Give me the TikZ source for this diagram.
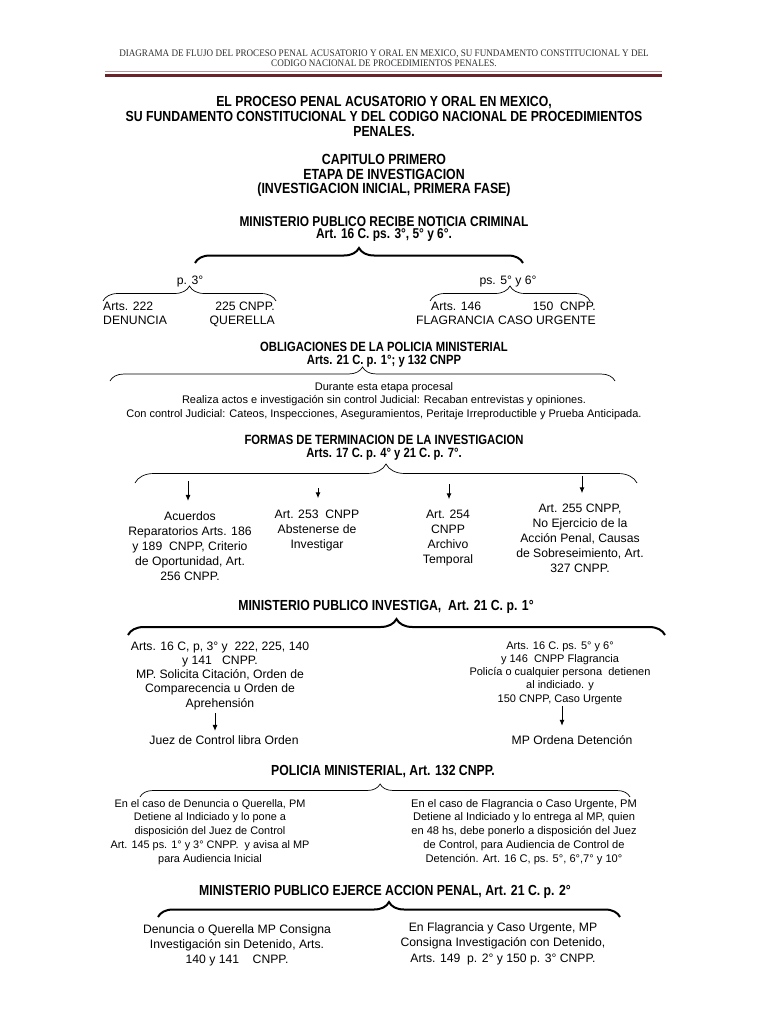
\documentclass[tikz,border=0pt]{standalone}
\usepackage{fontspec}
\setmainfont{Liberation Sans}
\newfontfamily\narrowfont[FakeStretch=0.84]{Liberation Sans}
\newfontfamily\headerfont[FakeStretch=0.91]{Liberation Serif}
\usepackage{xcolor}
\usetikzlibrary{arrows.meta,positioning,decorations.pathreplacing}
\definecolor{ruleDark}{HTML}{6A2128}
\definecolor{ruleLight}{HTML}{B89497}
\definecolor{headGray}{HTML}{2E2E2E}

\begin{document}
\begin{tikzpicture}[x=1pt,y=-1pt,
  lbl/.style={inner sep=0pt,align=center,anchor=base},
  header/.style={lbl,text=headGray,font=\headerfont\fontsize{10}{10}\selectfont},
  title/.style={lbl,font=\narrowfont\bfseries\fontsize{14.6}{15}\selectfont},
  head/.style={lbl,font=\narrowfont\bfseries\fontsize{14.6}{13}\selectfont},
  smallhead/.style={lbl,font=\narrowfont\bfseries\fontsize{13.4}{13}\selectfont},
  note/.style={lbl,font=\fontsize{12.2}{15}\selectfont},
  smallnote/.style={lbl,font=\fontsize{11.1}{13.8}\selectfont},
  bigbrace/.style={decorate,decoration={brace,amplitude=#1},line width=2pt},
  brace/.style={decorate,decoration={brace,amplitude=#1},line width=0.7pt},
  arrow/.style={-{Latex[length=6pt,width=5pt]},line width=1pt}
]
\useasboundingbox (0,0) rectangle (768,1024);

\node[header] (h1) at (384,57) {DIAGRAMA DE FLUJO DEL PROCESO PENAL ACUSATORIO Y ORAL EN MEXICO, SU FUNDAMENTO CONSTITUCIONAL Y DEL};
\node[header] (h2) at (384,67) {CODIGO NACIONAL DE PROCEDIMIENTOS PENALES.};
\coordinate (rl) at (105,71.5);
\coordinate (rr) at (662,71.5);
\draw[ruleLight,line width=1pt] (rl) -- (rr);
\draw[ruleDark,line width=3.2pt] ([yshift=-4pt]rl) -- ([yshift=-4pt]rr);

\node[title] (tit) at (384,137) {EL PROCESO PENAL ACUSATORIO Y ORAL EN MEXICO,\\SU FUNDAMENTO CONSTITUCIONAL Y DEL CODIGO NACIONAL DE PROCEDIMIENTOS\\PENALES.};
\node[title,font=\narrowfont\bfseries\fontsize{14.7}{14.5}\selectfont] (cap) at (384,194) {CAPITULO PRIMERO\\ETAPA DE INVESTIGACION\\(INVESTIGACION INICIAL, PRIMERA FASE)};

\node[head,font=\narrowfont\bfseries\fontsize{14.2}{13}\selectfont] (rec) at (384,239) {MINISTERIO PUBLICO RECIBE NOTICIA CRIMINAL\\Art. 16 C. ps. 3°, 5° y 6°.};
\coordinate (b1l) at (195,263);
\coordinate (b1r) at (523,263);
\draw[bigbrace=15pt] (b1l) -- (b1r);
\node[note] (p3) at (190,284) {p. 3°};
\node[note] (p56) at (508,284) {ps. 5° y 6°};
\coordinate (b2l) at (103,301);
\coordinate (b2r) at (276,301);
\coordinate (b3l) at (430,301);
\coordinate (b3r) at (590,301);
\draw[brace=15pt] (b2l) -- (b2r);
\draw[brace=15pt] (b3l) -- (b3r);
\node[note,font=\fontsize{12.2}{14}\selectfont,align=left,anchor=base west] (den) at (103,324) {Arts. 222\\DENUNCIA};
\node[note,font=\fontsize{12.2}{14}\selectfont,align=right,anchor=base east] (que) at (275,324) {225 CNPP.\\QUERELLA};
\node[note,font=\fontsize{12.2}{14}\selectfont,align=left,anchor=base west] (fla) at (416,324) {\hspace{15pt}Arts. 146\\FLAGRANCIA};
\node[note,font=\fontsize{12.2}{14}\selectfont,align=right,anchor=base east] (urg) at (596,324) {150\ \ CNPP.\hspace{8pt}\\CASO URGENTE};

\node[smallhead] (obl) at (384,364) {OBLIGACIONES DE LA POLICIA MINISTERIAL\\Arts. 21 C. p. 1°; y 132 CNPP};
\coordinate (b4l) at (110,381);
\coordinate (b4r) at (615,381);
\draw[brace=14pt] (b4l) -- (b4r);
\node[lbl,font=\fontsize{11}{13.7}\selectfont] (dur) at (384,417.4) {Durante esta etapa procesal\\Realiza actos e investigación sin control Judicial: Recaban entrevistas y opiniones.\\Con control Judicial: Cateos, Inspecciones, Aseguramientos, Peritaje Irreproductible y Prueba Anticipada.};

\node[smallhead] (ter) at (384,457) {FORMAS DE TERMINACION DE LA INVESTIGACION\\Arts. 17 C. p. 4° y 21 C. p. 7°.};
\coordinate (b5l) at (135,483);
\coordinate (b5r) at (637,483);
\draw[brace=19pt] (b5l) -- (b5r);
\node[note] (acu) at (190,580) {Acuerdos\\Reparatorios Arts. 186\\y 189\ \ CNPP, Criterio\\de Oportunidad, Art.\\256 CNPP.};
\node[note] (abs) at (317,548) {Art. 253\ \ CNPP\\Abstenerse de\\Investigar};
\node[note] (arc) at (448,563) {Art. 254\\CNPP\\Archivo\\Temporal};
\node[note] (noe) at (580,572) {Art. 255 CNPP,\\No Ejercicio de la\\Acción Penal, Causas\\de Sobreseimiento, Art.\\327 CNPP.};
\coordinate (a1) at (188,481);
\coordinate (a2) at (318,488);
\coordinate (a3) at (449,484);
\coordinate (a4) at (582,476);
\draw[arrow,shorten >=10pt] (a1) -- (a1 |- acu.north);
\draw[arrow,shorten >=11pt] (a2) -- (a2 |- abs.north);
\draw[arrow,shorten >=10pt] (a3) -- (a3 |- arc.north);
\draw[arrow,shorten >=10pt] (a4) -- (a4 |- noe.north);

\node[head] (inv) at (386,610) {MINISTERIO PUBLICO INVESTIGA,\ \ Art. 21 C. p. 1°};
\coordinate (b6l) at (128,635);
\coordinate (b6r) at (665,635);
\draw[bigbrace=16pt] (b6l) -- (b6r);
\node[note,font=\fontsize{12.2}{14.3}\selectfont] (cit) at (220,707.2) {Arts. 16 C, p, 3° y\ \ 222, 225, 140\\y 141\ \ \ CNPP.\\MP. Solicita Citación, Orden de\\Comparecencia u Orden de\\Aprehensión};
\node[note] (jue) at (224,744) {Juez de Control libra Orden};
\node[smallnote,font=\fontsize{11}{13.3}\selectfont] (det) at (560,702.2) {Arts. 16 C. ps. 5° y 6°\\y 146\ \ CNPP Flagrancia\\Policía o cualquier persona\ \ detienen\\al indiciado. y\\150 CNPP, Caso Urgente};
\node[note] (ord) at (572,744) {MP Ordena Detención};
\coordinate (a5) at (215,713);
\coordinate (a6) at (562,706);
\draw[arrow,shorten >=4pt] (a5) -- (a5 |- jue.north);
\draw[arrow,shorten >=9pt] (a6) -- (a6 |- ord.north);

\node[head] (pol) at (383,775) {POLICIA MINISTERIAL, Art. 132 CNPP.};
\coordinate (b7l) at (140,797);
\coordinate (b7r) at (630,797);
\draw[brace=13pt,decoration={aspect=0.49}] (b7l) -- (b7r);
\node[smallnote,font=\fontsize{10.9}{13.8}\selectfont] (que2) at (210,862.2) {En el caso de Denuncia o Querella, PM\\Detiene al Indiciado y lo pone a\\disposición del Juez de Control\\Art. 145 ps. 1° y 3° CNPP.\ \ y avisa al MP\\para Audiencia Inicial};
\node[smallnote] (fla2) at (524,862.2) {En el caso de Flagrancia o Caso Urgente, PM\\Detiene al Indiciado y lo entrega al MP, quien\\en 48 hs, debe ponerlo a disposición del Juez\\de Control, para Audiencia de Control de\\Detención. Art. 16 C, ps. 5°, 6°,7° y 10°};

\node[head] (acc) at (385,895) {MINISTERIO PUBLICO EJERCE ACCION PENAL, Art. 21 C. p. 2°};
\coordinate (b8l) at (158,917);
\coordinate (b8r) at (620,917);
\draw[bigbrace=15pt] (b8l) -- (b8r);
\node[note] (sin) at (237,963) {Denuncia o Querella MP Consigna\\Investigación sin Detenido, Arts.\\140 y 141\ \ \ \ CNPP.};
\node[note,font=\fontsize{12.2}{15.5}\selectfont] (con) at (503,962) {En Flagrancia y Caso Urgente, MP\\Consigna Investigación con Detenido,\\Arts. 149\ \ p. 2° y 150 p. 3° CNPP.};
\end{tikzpicture}
\end{document}
